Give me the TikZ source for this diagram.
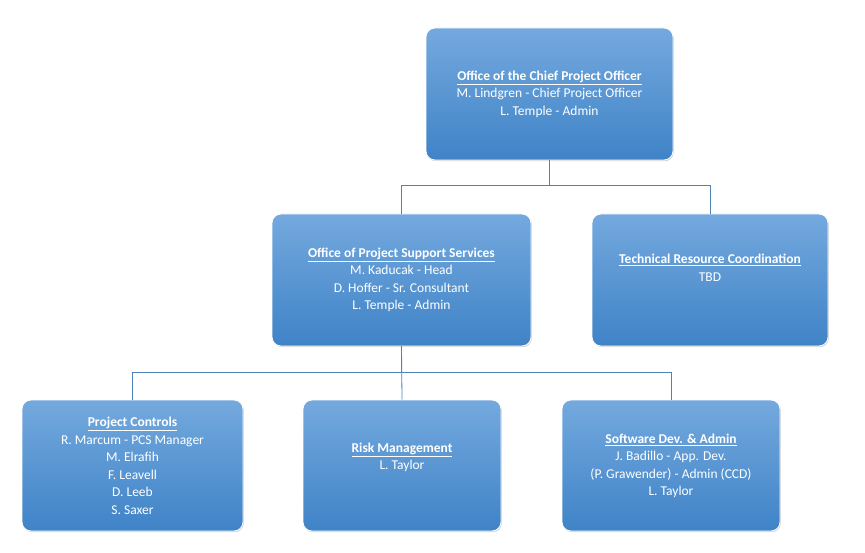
\documentclass[tikz,border=0pt]{standalone}
\usepackage{fontspec}
\setmainfont{Carlito}
\usetikzlibrary{shadows}
\begin{document}
\begin{tikzpicture}[x=1pt,y=-1pt,
  box/.style={draw=white,line width=0.8pt,rounded corners=9pt,top color=blue0,bottom color=blue1,
    text=white,align=center,font=\fontsize{13.5}{17.5}\selectfont,inner sep=0pt,
    drop shadow={shadow xshift=0.8pt,shadow yshift=-1.2pt,opacity=0.35}},
  conn/.style={draw=linec,line width=0.8pt}]
\definecolor{blue0}{HTML}{74A9DE}
\definecolor{blue1}{HTML}{3F83C7}
\definecolor{linec}{HTML}{4C83B8}
\newcommand{\hd}[1]{\underline{\textbf{#1}}}
\useasboundingbox (0,0) rectangle (865,553);
\node[box,minimum width=247pt,minimum height=132pt] (top) at (549.5,94) {};
\node[box,minimum width=259pt,minimum height=132pt] (pss) at (401.5,280) {};
\node[box,minimum width=236pt,minimum height=132pt] (trc) at (710,280) {};
\node[box,minimum width=221pt,minimum height=131pt] (pc) at (132.5,465.5) {};
\node[box,minimum width=198pt,minimum height=131pt] (rm) at (402,465.5) {};
\node[box,minimum width=218pt,minimum height=131pt] (sd) at (671,465.5) {};
\node[text=white,align=center,font=\fontsize{13.5}{17.5}\selectfont] (ttop) at (549.5,94) {\hd{Office of the Chief Project Officer}\\M. Lindgren - Chief Project Officer\\L. Temple - Admin};
\node[text=white,align=center,font=\fontsize{13.5}{17.5}\selectfont] (tpss) at (401.5,280) {\hd{Office of Project Support Services}\\M. Kaducak - Head\\D. Hoffer - Sr. Consultant\\L. Temple - Admin};
\node[text=white,align=center,font=\fontsize{13.5}{17.5}\selectfont] (ttrc) at (710,268) {\hd{Technical Resource Coordination}\\TBD};
\node[text=white,align=center,font=\fontsize{13.5}{17.5}\selectfont] (tpc) at (132.5,466) {\hd{Project Controls}\\R. Marcum - PCS Manager\\M. Elrafih\\F. Leavell\\D. Leeb\\S. Saxer};
\node[text=white,align=center,font=\fontsize{13.5}{17.5}\selectfont] (trm) at (402,457.5) {\hd{Risk Management}\\L. Taylor};
\node[text=white,align=center,font=\fontsize{13.5}{17.5}\selectfont] (tsd) at (671,466) {\hd{Software Dev. \& Admin}\\J. Badillo - App. Dev.\\(P. Grawender) - Admin (CCD)\\L. Taylor};
\draw[conn] (top.south) -- ++(0,25) -| (pss.north);
\draw[conn] (top.south) -- ++(0,25) -| (trc.north);
\draw[conn] (pss.south) -- ++(0,26) -| (pc.north);
\draw[conn] (pss.south) -- (rm.north);
\draw[conn] (pss.south) -- ++(0,26) -| (sd.north);
\end{tikzpicture}
\end{document}
